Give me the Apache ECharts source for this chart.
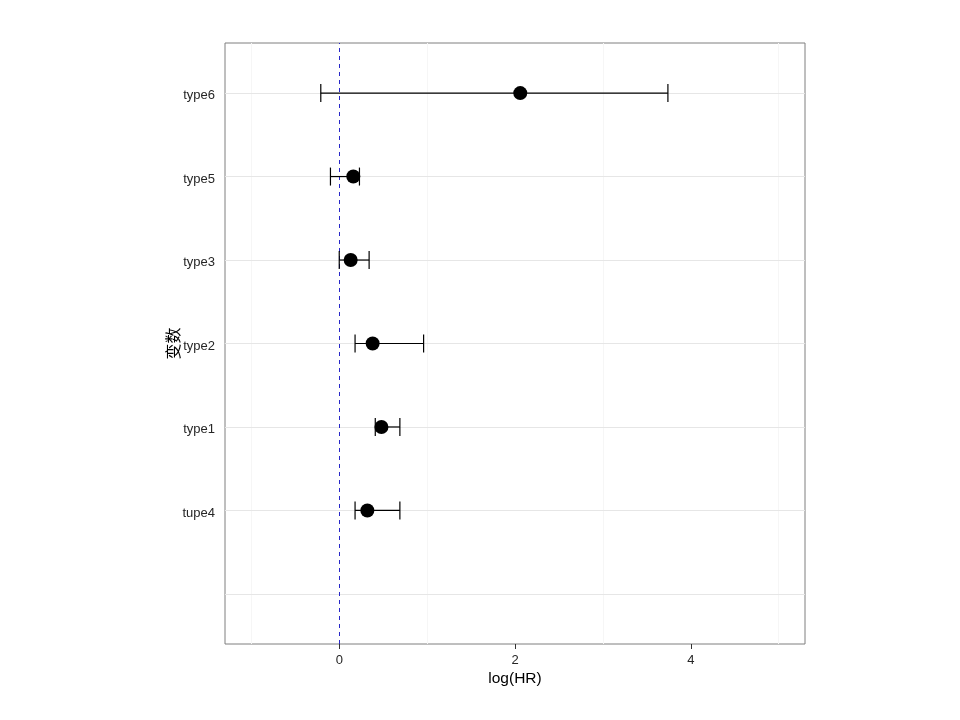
<!DOCTYPE html>
<html><head><meta charset="utf-8">
<script src="https://cdn.jsdelivr.net/npm/echarts@6/dist/echarts.min.js"></script>
<style>html,body{margin:0;padding:0;background:#fff}#c{width:960px;height:720px}</style>
</head><body><div id="c"></div>
<script>
// ---- data ----
const categories = ['', 'tupe4', 'type1', 'type2', 'type3', 'type5', 'type6'];
const estimates  = [null, 0.32, 0.48, 0.38, 0.13, 0.16, 2.06];
const lowerCI    = [null, 0.18, 0.41, 0.18, 0.00, -0.10, -0.21];
const upperCI    = [null, 0.69, 0.69, 0.96, 0.34, 0.23, 3.74];
const xTicks     = [0, 2, 4];
const xMinorGrid = [-1, 1, 3, 5];
const refLine    = 0;
const xTitle     = 'log(HR)';
const yTitle     = '变数';

// ---- build ----
const yPos = categories.map((c, i) => i + 1);
const errData = [], ptData = [];
categories.forEach((c, i) => {
  if (estimates[i] === null) return;
  errData.push([lowerCI[i], upperCI[i], yPos[i]]);
  ptData.push([estimates[i], yPos[i]]);
});

const FONT = '"Liberation Sans", Arial, "Noto Sans CJK SC", sans-serif';
const chart = echarts.init(document.getElementById('c'), null, {renderer: 'canvas'});
chart.setOption({
  animation: false,
  backgroundColor: '#ffffff',
  grid: {left: 225, right: 155, top: 43, bottom: 76, show: true, z: 0,
         borderColor: '#7f7f7f', borderWidth: 1, backgroundColor: 'transparent'},
  xAxis: {
    type: 'value', min: -1.3, max: 5.3,
    axisLine: {show: false},
    splitLine: {show: false},
    axisTick: {show: true, customValues: xTicks, length: 5, lineStyle: {color: '#333333', width: 1}},
    axisLabel: {customValues: xTicks, margin: 10, fontSize: 13, color: '#262626', fontFamily: FONT},
    name: xTitle, nameLocation: 'middle', nameGap: 27, nameMoveOverlap: false,
    nameTextStyle: {fontSize: 15.5, color: '#000000', fontFamily: FONT}
  },
  yAxis: {
    type: 'value', min: 0.4, max: 7.6,
    axisLine: {show: false},
    splitLine: {show: false},
    axisTick: {show: true, customValues: yPos, length: 6, lineStyle: {color: '#333333', width: 1}},
    axisLabel: {customValues: yPos, margin: 10, fontSize: 13, color: '#262626', fontFamily: FONT,
                formatter: v => '{a|' + categories[Math.round(v) - 1] + '}',
                rich: {a: {fontSize: 13, color: '#262626', fontFamily: FONT, padding: [5, 0, 0, 0]}}},
    name: yTitle, nameLocation: 'middle', nameGap: 44, nameRotate: 90, nameMoveOverlap: false,
    nameTextStyle: {fontSize: 16, color: '#000000', fontFamily: '"Noto Sans CJK SC", sans-serif'}
  },
  series: [
    {
      type: 'line', data: [], z: 1, silent: true,
      markLine: {
        z: 1, silent: true, symbol: ['none', 'none'], label: {show: false}, animation: false,
        data: [
          ...xMinorGrid.map(v => ({xAxis: v, lineStyle: {color: '#f6f6f6', width: 1, type: 'solid'}})),
          ...yPos.map(v => ({yAxis: v, lineStyle: {color: '#e6e6e6', width: 1, type: 'solid'}}))
        ]
      }
    },
    {
      type: 'line', data: [], z: 3, silent: true,
      markLine: {
        z: 3, silent: true, symbol: ['none', 'none'], label: {show: false}, animation: false,
        data: [{xAxis: refLine, lineStyle: {color: '#2828c8', width: 1, type: [4, 4]}}]
      }
    },
    {
      type: 'custom', z: 4, silent: true,
      data: errData,
      encode: {x: [0, 1], y: 2},
      renderItem: function (params, api) {
        const lo = api.coord([api.value(0), api.value(2)]);
        const hi = api.coord([api.value(1), api.value(2)]);
        const h = 9;
        const st = {stroke: '#000000', lineWidth: 1.2};
        return {type: 'group', children: [
          {type: 'line', shape: {x1: lo[0], y1: lo[1], x2: hi[0], y2: hi[1]}, style: st},
          {type: 'line', shape: {x1: lo[0], y1: lo[1] - h, x2: lo[0], y2: lo[1] + h}, style: st},
          {type: 'line', shape: {x1: hi[0], y1: hi[1] - h, x2: hi[0], y2: hi[1] + h}, style: st}
        ]};
      }
    },
    {
      type: 'scatter', z: 5, silent: true,
      data: ptData, symbol: 'circle', symbolSize: 14,
      itemStyle: {color: '#000000', opacity: 1}
    }
  ]
});
</script>
</body></html>
